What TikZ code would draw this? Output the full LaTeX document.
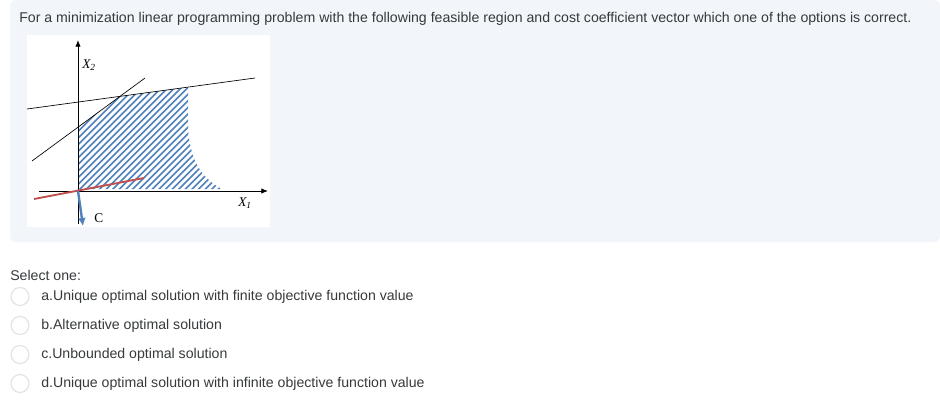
\documentclass[tikz,border=0pt]{standalone}
\usepackage{fontspec}
\setmainfont{Liberation Sans}
\newfontfamily\plotfont{Liberation Serif}
\usetikzlibrary{arrows.meta}
\definecolor{panelbg}{HTML}{F2F5F9}
\definecolor{txt}{HTML}{373A3C}
\definecolor{hatchblue}{HTML}{4F81BD}
\definecolor{costred}{HTML}{C0504D}
\definecolor{ringgray}{HTML}{DEE2E6}

\begin{document}
\begin{tikzpicture}[x=0.75pt, y=-0.75pt]

\tikzset{question/.style = {anchor=base west, inner sep=0pt, text=txt, font=\fontsize{10.6}{12}\selectfont}}
\tikzset{option/.style = {question}}
\tikzset{radio/.style = {shape=circle, draw=ringgray, fill=white, line width=0.8pt, minimum size=13.5pt, inner sep=0pt}}
\tikzset{axis/.style = {-{Latex[length=5pt, width=4pt]}, line width=0.6pt}}
\tikzset{axislabel/.style = {anchor=base west, inner sep=0pt, font=\plotfont\fontsize{10}{11}\selectfont}}
\useasboundingbox (0,0) rectangle (940,411);
\fill[white] (0,0) rectangle (940,411);
%question panel
\fill[panelbg, rounded corners=4] (10,0) rectangle (940,242);
\node[question] (title) at (19,22) {For a minimization linear programming problem with the following feasible region and cost coefficient vector which one of the options is correct.};
\fill[white] (27,35) rectangle (270,227);
%feasible region
\begin{scope}
\clip (78,189) -- (78,127) -- (120,96.5) -- (188,87.3) -- (188,127) .. controls (190,165) and (205,180) .. (222,189) -- cycle;
\foreach \k in {0,...,40}
  \draw[hatchblue, line width=1.2pt] (-30+6.6*\k,200) -- +(130,-130);
\end{scope}
%constraint lines
\coordinate (top1) at (27,109);
\coordinate (top2) at (255,78);
\coordinate (diag1) at (32,161);
\coordinate (diag2) at (145,78);
\draw[line width=0.5pt] (top1) -- (top2);
\draw[line width=0.5pt] (diag1) -- (diag2);
%axes
\coordinate (O) at (78,191);
\coordinate (ybot) at (78,224);
\coordinate (ytop) at (78,40);
\coordinate (xleft) at (39,191);
\coordinate (xright) at (268,191);
\draw[axis] (ybot) -- (ytop);
\draw[axis] (xleft) -- (xright);
\node[axislabel] (x2) at (82,68) {\itshape X\textsubscript{2}};
\node[axislabel] (x1) at (238,206) {\itshape X\textsubscript{1}};
%cost vector
\coordinate (red1) at (34,199);
\coordinate (red2) at (144,178);
\draw[costred, line width=1.4pt] (red1) -- (red2);
\coordinate (ctip) at (83,226);
\draw[-{Latex[length=6pt, width=6pt]}, hatchblue, line width=1.8pt] (O) -- (ctip);
\node[axislabel] (c) at (94,222) {C};
%options
\node[question] (select) at (10,280) {Select one:};
\node[radio] (ra) at (20,296.5) {};
\node[radio] (rb) at (20,325.5) {};
\node[radio] (rc) at (20,354.5) {};
\node[radio] (rd) at (20,383.5) {};
\node[option] (oa) at (41,300.5) {a.Unique optimal solution with finite objective function value};
\node[option] (ob) at (41,329.5) {b.Alternative optimal solution};
\node[option] (oc) at (41,358.5) {c.Unbounded optimal solution};
\node[option] (od) at (41,387.5) {d.Unique optimal solution with infinite objective function value};

\end{tikzpicture}
\end{document}
